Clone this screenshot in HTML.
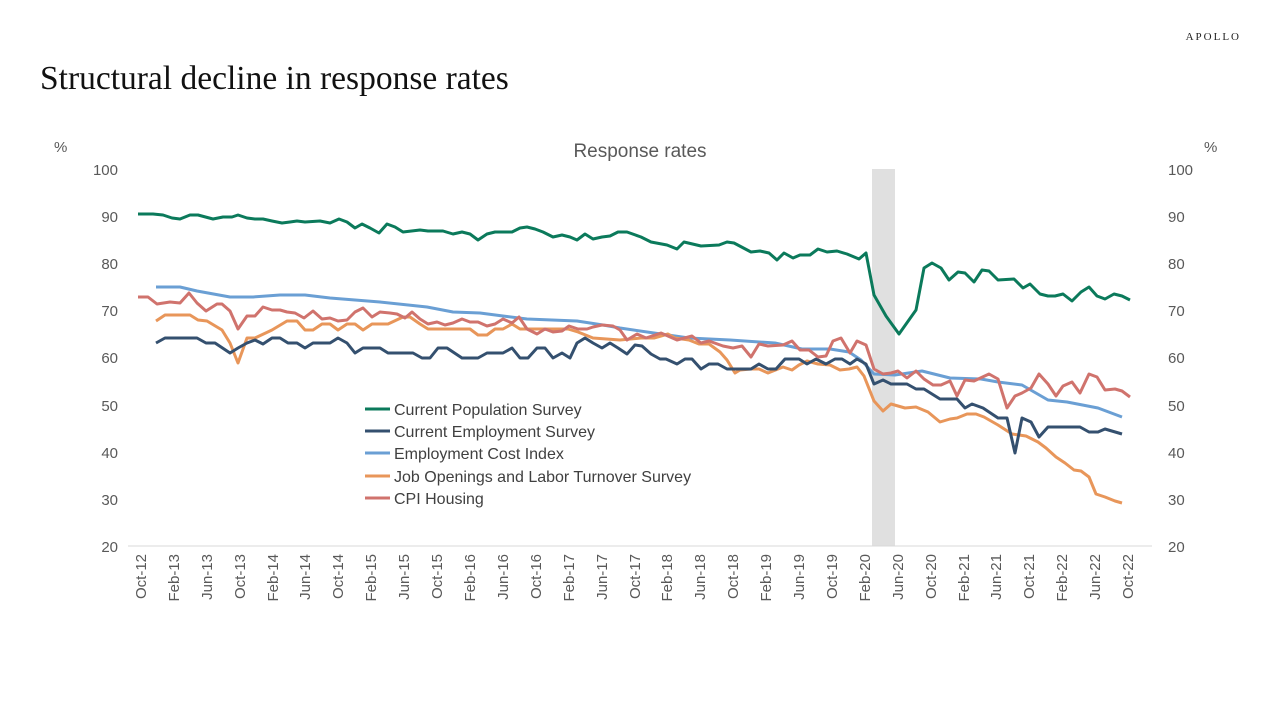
<!DOCTYPE html>
<html><head><meta charset="utf-8"><style>
body{margin:0;background:#fff;}
svg text{font-family:"Liberation Sans",sans-serif;}
</style></head><body>
<svg width="1280" height="720" viewBox="0 0 1280 720" xmlns="http://www.w3.org/2000/svg">
<text x="1241" y="40" text-anchor="end" style="font-family:'Liberation Serif',serif;font-size:11px;letter-spacing:2px" fill="#222">APOLLO</text>
<text x="40" y="89" style="font-family:'Liberation Serif',serif;font-size:33.5px" fill="#111">Structural decline in response rates</text>
<text x="640" y="157" text-anchor="middle" font-size="19" fill="#595959">Response rates</text>
<text x="54" y="152" font-size="15" fill="#595959">%</text>
<text x="1204" y="152" font-size="15" fill="#595959">%</text>
<rect x="872" y="169" width="23" height="377" fill="#e0e0e0"/>
<g font-size="15" fill="#595959">
<text x="118" y="175" text-anchor="end">100</text><text x="118" y="222" text-anchor="end">90</text><text x="118" y="269" text-anchor="end">80</text><text x="118" y="316" text-anchor="end">70</text><text x="118" y="363" text-anchor="end">60</text><text x="118" y="411" text-anchor="end">50</text><text x="118" y="458" text-anchor="end">40</text><text x="118" y="505" text-anchor="end">30</text><text x="118" y="552" text-anchor="end">20</text>
<text x="1168" y="175">100</text><text x="1168" y="222">90</text><text x="1168" y="269">80</text><text x="1168" y="316">70</text><text x="1168" y="363">60</text><text x="1168" y="411">50</text><text x="1168" y="458">40</text><text x="1168" y="505">30</text><text x="1168" y="552">20</text>
</g>
<line x1="128" y1="546" x2="1152" y2="546" stroke="#d9d9d9" stroke-width="1"/>
<g fill="none" stroke-width="3" stroke-linejoin="round">
<polyline stroke="#6a9fd4" points="156,287 180,287 197,291 230,297 253,297 280,295 305,295 330,298 380,302 427,307 453,312 480,313 503,316 527,319 577,321 603,325 620,328 654,333 689,338 730,340 775,343 802,349 830,349 849,352 861,360 874,374 895,375 922,371 950,378 981,379 998,382 1022,385 1048,400 1067,402 1098,408 1122,417"/>
<polyline stroke="#e8965a" points="156,321 165,315 190,315 198,320 207,321 222,330 230,343 238,363 247,338 255,338 272,330 287,321 297,321 305,330 313,330 322,324 330,324 338,330 347,324 355,324 363,330 372,324 388,324 403,317 410,317 420,324 428,329 470,329 478,335 487,335 495,329 503,329 512,324 520,329 568,329 578,332 593,338 620,340 641,338 654,338 668,334 675,338 689,340 699,344 709,344 720,352 727,360 735,373 740,370 751,369 759,369 768,373 783,367 792,370 799,365 807,361 818,364 830,365 840,370 849,369 857,367 864,376 874,401 883,411 891,404 905,408 916,407 928,412 940,422 950,419 957,418 967,414 976,414 984,417 998,425 1012,434 1026,436 1038,442 1046,448 1056,457 1065,463 1074,470 1081,471 1089,477 1096,494 1105,497 1115,501 1122,503"/>
<polyline stroke="#34506f" points="156,343 165,338 197,338 206,343 215,343 230,353 238,348 247,343 255,340 263,344 272,338 280,338 288,343 297,343 305,348 313,343 330,343 338,338 347,343 355,353 363,348 380,348 388,353 413,353 422,358 430,358 438,348 447,348 462,358 478,358 487,353 503,353 512,348 520,358 528,358 537,348 545,348 553,358 562,353 570,358 577,343 585,338 593,343 602,348 610,343 618,348 627,354 635,345 642,346 651,354 660,359 666,359 677,364 685,359 692,359 701,369 709,364 718,364 727,369 751,369 759,364 768,369 776,369 785,359 799,359 807,364 816,359 826,364 835,359 842,359 850,364 857,359 866,364 874,384 883,380 891,384 907,384 916,389 924,389 940,399 957,399 965,408 972,404 983,408 998,418 1007,418 1015,453 1022,418 1031,422 1039,437 1048,427 1080,427 1089,432 1098,432 1105,429 1122,434"/>
<polyline stroke="#d0736d" points="138,297 148,297 157,304 170,302 180,303 189,293 197,303 206,311 217,304 222,304 230,311 238,329 247,316 255,316 263,307 272,310 280,310 287,312 295,313 304,318 313,311 322,319 330,318 338,321 347,320 355,312 363,308 372,317 380,312 390,313 397,314 405,318 412,312 420,319 428,324 437,322 445,325 453,323 462,319 470,322 478,322 487,326 495,324 503,319 512,323 519,317 527,329 537,334 545,329 553,332 562,331 569,326 578,329 587,329 593,327 602,325 613,326 620,330 627,340 637,334 646,338 661,333 677,340 692,336 701,343 709,341 723,346 733,348 742,346 751,357 759,344 768,346 783,345 792,341 800,350 809,350 818,357 826,356 833,341 841,338 850,353 857,341 866,345 874,369 883,374 891,373 898,371 907,378 916,371 924,379 933,385 941,385 950,381 957,396 965,380 974,381 989,374 998,379 1007,408 1015,396 1022,393 1031,388 1039,374 1048,384 1056,396 1063,386 1072,382 1080,393 1089,374 1097,377 1105,390 1115,389 1122,391 1130,397"/>
<polyline stroke="#0b7a5b" points="138,214 153,214 163,215 172,218 180,219 190,215 198,215 213,219 223,217 232,217 238,215 247,218 255,219 263,219 272,221 282,223 290,222 297,221 305,222 320,221 330,223 339,219 347,222 355,228 362,224 370,228 379,233 387,224 395,227 403,232 420,230 428,231 443,231 453,234 462,232 470,234 478,240 487,234 495,232 512,232 520,228 527,227 535,229 543,232 553,237 562,235 570,237 577,240 585,234 593,239 602,237 610,236 618,232 627,232 641,237 651,242 667,245 677,249 684,242 701,246 719,245 727,242 734,243 751,252 760,251 769,253 777,260 784,253 793,258 800,255 810,255 818,249 827,252 837,251 847,254 859,259 866,253 874,295 886,316 899,334 916,310 924,268 932,263 941,268 949,280 958,272 965,273 974,282 982,270 989,271 998,280 1014,279 1023,288 1030,284 1040,294 1048,296 1055,296 1063,294 1072,301 1081,292 1089,287 1097,296 1105,299 1114,294 1122,296 1130,300"/>
</g>
<g stroke-width="3">
<line x1="365" y1="409" x2="390" y2="409" stroke="#0b7a5b"/>
<line x1="365" y1="431" x2="390" y2="431" stroke="#34506f"/>
<line x1="365" y1="453" x2="390" y2="453" stroke="#6a9fd4"/>
<line x1="365" y1="476" x2="390" y2="476" stroke="#e8965a"/>
<line x1="365" y1="498" x2="390" y2="498" stroke="#d0736d"/>
</g>
<g font-size="16" fill="#404040">
<text x="394" y="415">Current Population Survey</text>
<text x="394" y="437">Current Employment Survey</text>
<text x="394" y="459">Employment Cost Index</text>
<text x="394" y="482">Job Openings and Labor Turnover Survey</text>
<text x="394" y="504">CPI Housing</text>
</g>
<g font-size="15" fill="#595959">
<text transform="translate(146,554) rotate(-90)" text-anchor="end">Oct-12</text>
<text transform="translate(179,554) rotate(-90)" text-anchor="end">Feb-13</text>
<text transform="translate(212,554) rotate(-90)" text-anchor="end">Jun-13</text>
<text transform="translate(245,554) rotate(-90)" text-anchor="end">Oct-13</text>
<text transform="translate(278,554) rotate(-90)" text-anchor="end">Feb-14</text>
<text transform="translate(310,554) rotate(-90)" text-anchor="end">Jun-14</text>
<text transform="translate(343,554) rotate(-90)" text-anchor="end">Oct-14</text>
<text transform="translate(376,554) rotate(-90)" text-anchor="end">Feb-15</text>
<text transform="translate(409,554) rotate(-90)" text-anchor="end">Jun-15</text>
<text transform="translate(442,554) rotate(-90)" text-anchor="end">Oct-15</text>
<text transform="translate(475,554) rotate(-90)" text-anchor="end">Feb-16</text>
<text transform="translate(508,554) rotate(-90)" text-anchor="end">Jun-16</text>
<text transform="translate(541,554) rotate(-90)" text-anchor="end">Oct-16</text>
<text transform="translate(574,554) rotate(-90)" text-anchor="end">Feb-17</text>
<text transform="translate(607,554) rotate(-90)" text-anchor="end">Jun-17</text>
<text transform="translate(640,554) rotate(-90)" text-anchor="end">Oct-17</text>
<text transform="translate(672,554) rotate(-90)" text-anchor="end">Feb-18</text>
<text transform="translate(705,554) rotate(-90)" text-anchor="end">Jun-18</text>
<text transform="translate(738,554) rotate(-90)" text-anchor="end">Oct-18</text>
<text transform="translate(771,554) rotate(-90)" text-anchor="end">Feb-19</text>
<text transform="translate(804,554) rotate(-90)" text-anchor="end">Jun-19</text>
<text transform="translate(837,554) rotate(-90)" text-anchor="end">Oct-19</text>
<text transform="translate(870,554) rotate(-90)" text-anchor="end">Feb-20</text>
<text transform="translate(903,554) rotate(-90)" text-anchor="end">Jun-20</text>
<text transform="translate(936,554) rotate(-90)" text-anchor="end">Oct-20</text>
<text transform="translate(969,554) rotate(-90)" text-anchor="end">Feb-21</text>
<text transform="translate(1001,554) rotate(-90)" text-anchor="end">Jun-21</text>
<text transform="translate(1034,554) rotate(-90)" text-anchor="end">Oct-21</text>
<text transform="translate(1067,554) rotate(-90)" text-anchor="end">Feb-22</text>
<text transform="translate(1100,554) rotate(-90)" text-anchor="end">Jun-22</text>
<text transform="translate(1133,554) rotate(-90)" text-anchor="end">Oct-22</text>
</g>
</svg>
</body></html>
